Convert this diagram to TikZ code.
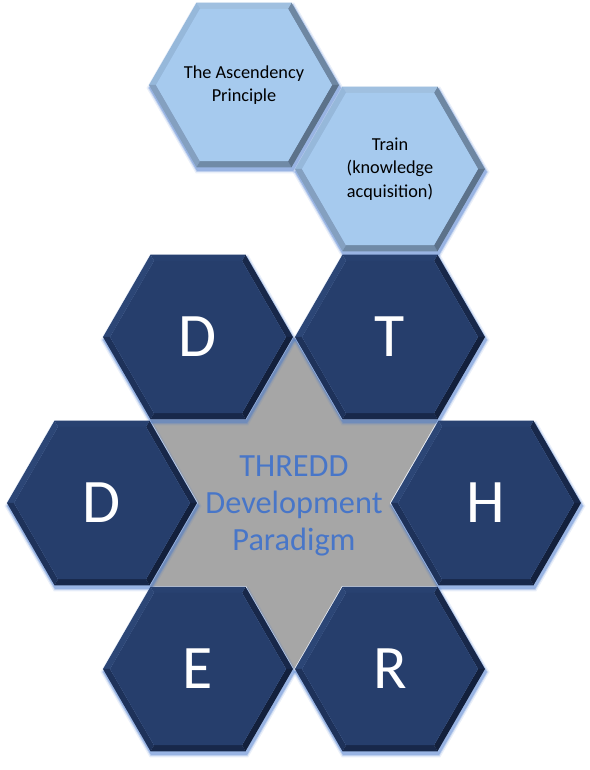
\documentclass[tikz,border=0pt]{standalone}
\usepackage{fontspec}
\setmainfont{Carlito}
\usepackage{tikz}
\usetikzlibrary{calc}

% colours of the dark cells (c = centre, number = face direction)
\definecolor{dkc}{RGB}{38,62,108}
\definecolor{dk30}{RGB}{24,40,74}
\definecolor{dk90}{RGB}{40,65,112}
\definecolor{dk150}{RGB}{44,70,118}
\definecolor{dk210}{RGB}{30,50,90}
\definecolor{dk270}{RGB}{24,40,74}
\definecolor{dk330}{RGB}{19,32,60}
% colours of the light cells
\definecolor{ltc}{RGB}{166,202,238}
\definecolor{lt30}{RGB}{110,135,162}
\definecolor{lt90}{RGB}{160,192,224}
\definecolor{lt150}{RGB}{150,184,218}
\definecolor{lt210}{RGB}{132,160,192}
\definecolor{lt270}{RGB}{112,138,166}
\definecolor{lt330}{RGB}{92,114,138}
\definecolor{glow}{RGB}{70,120,205}
\definecolor{starfill}{RGB}{166,166,166}
\definecolor{titleblue}{RGB}{72,118,200}

% one bevelled hexagon: #1 centre, #2 colour set
\newcommand{\hexcell}[2]{%
  \begin{scope}[shift={(#1)}]
    \foreach \a in {30,90,...,330}
      \fill[fill=#2\a] (\a-30:95) -- (\a+30:95) -- (\a+30:88) -- (\a-30:88) -- cycle;
    \fill[fill=#2c] (0:88) -- (60:88) -- (120:88) -- (180:88) -- (240:88) -- (300:88) -- cycle;
  \end{scope}}

\tikzset{
  letter/.style={text=white, font=\fontsize{44}{44}\selectfont},
  lighttext/.style={align=center, font=\fontsize{13}{16.8}\selectfont}
}

\begin{document}
\begin{tikzpicture}[x=0.025cm, y=0.025cm]
    \useasboundingbox (0,0) rectangle (590,770);

    % cell centres
    \coordinate (cStar) at (294,267);
    \coordinate (cH) at (486,267);
    \coordinate (cT) at (390,433);
    \coordinate (cDa) at (198,433);
    \coordinate (cDb) at (102,267);
    \coordinate (cE) at (198,101);
    \coordinate (cR) at (390,101);
    \coordinate (cTrain) at (390,601);
    \coordinate (cAsc) at (244,685);

    % grey star behind
    \begin{scope}[shift={(cStar)}]
        \fill[starfill] (90:166) -- (210:166) -- (330:166) -- cycle;
        \fill[starfill] (270:166) -- (30:166) -- (150:166) -- cycle;
    \end{scope}

    % soft blue glow under every cell
    \foreach \n in {cH,cT,cDa,cDb,cE,cR,cTrain,cAsc} {
        \begin{scope}[shift={($(\n)+(1,-3)$)}]
            \foreach \r/\o in {98.5/0.12,97/0.22,96/0.35} {
                \fill[glow, opacity=\o] (0:\r) -- (60:\r) -- (120:\r) -- (180:\r) -- (240:\r) -- (300:\r) -- cycle;
            }
        \end{scope}
    }

    % the cells
    \hexcell{cAsc}{lt}
    \hexcell{cTrain}{lt}
    \foreach \n in {cH,cT,cDa,cDb,cE,cR} {
        \hexcell{\n}{dk}
    }

    % texts
    \node[lighttext] (asc) at (cAsc) {The Ascendency\\Principle};
    \node[lighttext] (train) at (cTrain) {Train\\(knowledge\\acquisition)};

    \node[letter] (lT) at (cT) {T};
    \node[letter] (lDa) at (cDa) {D};
    \node[letter] (lDb) at (cDb) {D};
    \node[letter] (lH) at (cH) {H};
    \node[letter] (lE) at (cE) {E};
    \node[letter] (lR) at (cR) {R};

    \node[align=center, text=titleblue, font=\fontsize{23}{26.5}\selectfont] (title) at (294,264)
        {THREDD\\Development\\Paradigm};
\end{tikzpicture}
\end{document}
